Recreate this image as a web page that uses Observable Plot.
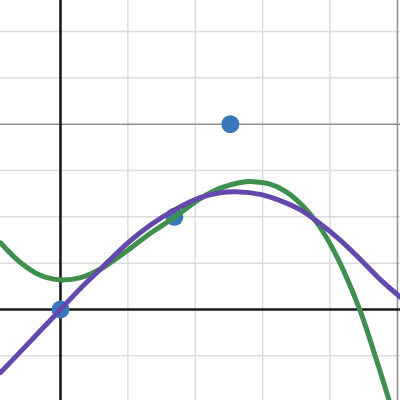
<!DOCTYPE html>
<html>
<head>
<meta charset="utf-8">
<script src="https://cdn.jsdelivr.net/npm/d3@7"></script>
<script src="https://cdn.jsdelivr.net/npm/@observablehq/plot@0.6"></script>
<style>
  html, body { margin: 0; padding: 0; background: #fff; }
  #chart svg { display: block; }
</style>
</head>
<body>
<div id="chart"></div>
<script>
// Data points (blue)
const pointX = [0, 1.69, 2.52];
const pointY = [0, 1.0, 2.0];

// Purple curve
const purpleX = [-0.89, -0.6, -0.3, 0, 0.3, 0.6, 1.0, 1.33, 1.68, 2.08, 2.37, 2.6, 2.98, 3.26, 3.56, 3.81, 4.15, 4.45, 4.75, 5.05];
const purpleY = [-0.68, -0.46, -0.23, 0, 0.23, 0.44, 0.72, 0.91, 1.07, 1.21, 1.26, 1.27, 1.24, 1.175, 1.075, 0.95, 0.75, 0.54, 0.32, 0.13];

// Green curve
const greenX = [-0.89, -0.6, -0.3, 0, 0.3, 0.6, 1.0, 1.33, 1.68, 2.08, 2.37, 2.67, 2.85, 3.1, 3.35, 3.6, 3.81, 4.0, 4.2, 4.45, 4.7, 4.88];
const greenY = [0.72, 0.51, 0.37, 0.32, 0.345, 0.44, 0.64, 0.82, 0.99, 1.2, 1.31, 1.37, 1.38, 1.355, 1.27, 1.115, 0.93, 0.71, 0.42, -0.02, -0.57, -0.99];

// Grid values
const minorX = [1, 2, 3, 4];
const majorX = [5];
const minorY = [-0.5, 0.5, 1, 1.5, 2.5, 3];
const majorY = [2];

const points = pointX.map((x, i) => ({x, y: pointY[i]}));
const purple = purpleX.map((x, i) => ({x, y: purpleY[i]}));
const green = greenX.map((x, i) => ({x, y: greenY[i]}));

const chart = Plot.plot({
  width: 400,
  height: 400,
  margin: 0,
  style: {background: "#fff"},
  x: {domain: [-0.89, 5.045], axis: null},
  y: {domain: [-0.982, 3.335], axis: null},
  marks: [
    Plot.ruleX(minorX, {stroke: "#dcdcdc", strokeWidth: 1.5}),
    Plot.ruleY(minorY, {stroke: "#dcdcdc", strokeWidth: 1.5}),
    Plot.ruleX(majorX, {stroke: "#8f8f8f", strokeWidth: 1.5}),
    Plot.ruleY(majorY, {stroke: "#8f8f8f", strokeWidth: 1.5}),
    Plot.ruleX([0], {stroke: "#1a1a1a", strokeWidth: 2.6}),
    Plot.ruleY([0], {stroke: "#1a1a1a", strokeWidth: 2.6}),
    Plot.dot(points, {x: "x", y: "y", r: 9, fill: "#3878bb", stroke: "none"}),
    Plot.line(green, {x: "x", y: "y", stroke: "#3f8f4f", strokeWidth: 5, curve: "catmull-rom", clip: true}),
    Plot.line(purple, {x: "x", y: "y", stroke: "#6448ab", strokeWidth: 5, curve: "catmull-rom", clip: true})
  ]
});
document.getElementById("chart").appendChild(chart);
</script>
</body>
</html>
